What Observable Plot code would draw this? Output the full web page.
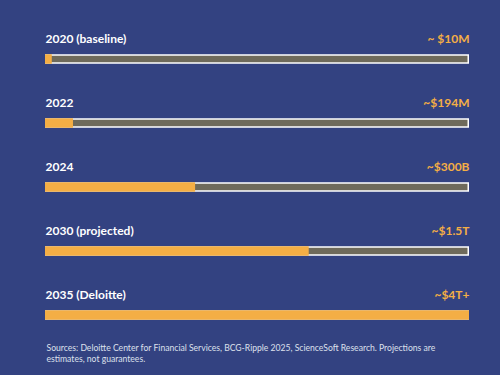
<!DOCTYPE html>
<html>
<head>
<meta charset="utf-8">
<script src="https://cdn.jsdelivr.net/npm/d3@7"></script>
<script src="https://cdn.jsdelivr.net/npm/@observablehq/plot@0.6"></script>
<style>
  html, body { margin: 0; padding: 0; background: #334281; }
  #chart svg { display: block; }
</style>
</head>
<body>
<div id="chart"></div>
<script>
// Milestones, their headline market size, and how full each progress bar is drawn
const years = ["2020 (baseline)", "2022", "2024", "2030 (projected)", "2035 (Deloitte)"];
const valueLabels = ["~ $10M", "~$194M", "~$300B", "~$1.5T", "~$4T+"];
const progress = [0.016, 0.066, 0.354, 0.622, 1.0];
const sourceNote = "Sources: Deloitte Center for Financial Services, BCG-Ripple 2025, ScienceSoft Research. Projections are\nestimates, not guarantees.";

const rows = years.map((year, i) => ({ year, label: valueLabels[i], progress: progress[i] }));

const orange = "#f4ae45";
const track = "#6e6a5b";

const chart = Plot.plot({
  width: 500,
  height: 375,
  margin: 0,
  style: { background: "transparent", fontFamily: "Lato, sans-serif" },
  x: { domain: [0, 1], range: [45, 469], axis: null },
  y: { type: "band", domain: years, range: [26, 348.5], padding: 0, axis: null },
  marks: [
    // white outline of each track
    Plot.barX(rows, { x1: 0, x2: 1, y: "year", fill: "white", insetTop: 27.25, insetBottom: 27.25 }),
    // grey track interior
    Plot.barX(rows, { x1: 0, x2: 1, y: "year", fill: track, insetTop: 28.75, insetBottom: 28.75, insetLeft: 1.5, insetRight: 1.5 }),
    // orange progress fill
    Plot.barX(rows, { x1: 0, x2: "progress", y: "year", fill: orange, insetTop: 27.25, insetBottom: 27.25 }),
    // milestone names
    Plot.text(rows, { x: 0, y: "year", text: "year", textAnchor: "start", dy: -20.5, fill: "white", fontWeight: 700, fontSize: 12 }),
    // market size labels
    Plot.text(rows, { x: 1, y: "year", text: "label", textAnchor: "end", dy: -20.5, fill: orange, fontWeight: 700, fontSize: 12 }),
    // source note
    Plot.text([sourceNote], { frameAnchor: "top-left", dx: 46, dy: 342, text: d => d, textAnchor: "start", lineAnchor: "top", lineHeight: 1.35, fill: "#dde0ec", fontSize: 8.6 })
  ]
});

document.getElementById("chart").append(chart);
</script>
</body>
</html>
